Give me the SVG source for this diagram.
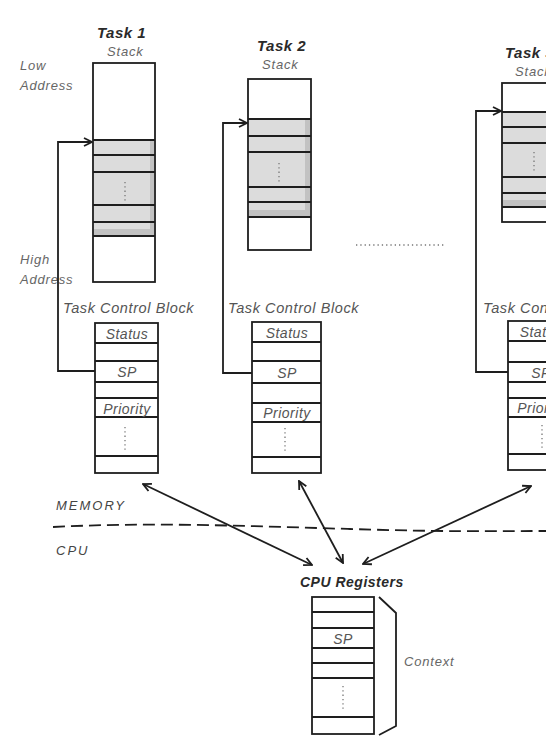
<svg xmlns="http://www.w3.org/2000/svg" width="546" height="745" viewBox="0 0 546 745">
<style>
.box{fill:#fff;stroke:#1e1e1e;stroke-width:1.8}
.ln{stroke:#1e1e1e;stroke-width:1.8;fill:none}
.sh{fill:#dcdcdc}
.sd{fill:#c2c2c2}
.dots{stroke:#777;stroke-width:1.3;stroke-dasharray:1.3,3;fill:none}
.title{font-family:"Liberation Sans",Arial,sans-serif;font-style:italic;font-weight:bold;font-size:15px;fill:#2a2a2a;letter-spacing:0.5px}
.sub{font-family:"Liberation Sans",Arial,sans-serif;font-style:italic;font-size:13px;fill:#666;letter-spacing:0.8px}
.lbl{font-family:"Liberation Sans",Arial,sans-serif;font-style:italic;font-size:14.5px;fill:#555;letter-spacing:0.6px}
.cell{font-family:"Liberation Sans",Arial,sans-serif;font-style:italic;font-size:14px;fill:#555;text-anchor:middle;letter-spacing:0.5px}
.cap{font-family:"Liberation Sans",Arial,sans-serif;font-style:italic;font-size:13px;fill:#444;letter-spacing:2px}
.conn{stroke:#1e1e1e;stroke-width:1.8;fill:none}
</style>
<defs>
<marker id="ah" viewBox="0 0 10 10" refX="9" refY="5" markerWidth="10" markerHeight="10" markerUnits="userSpaceOnUse" orient="auto-start-reverse">
<path d="M1,1 L9,5 L1,9" fill="none" stroke="#1e1e1e" stroke-width="1.8"/>
</marker>
</defs>
<rect width="546" height="745" fill="#fff"/>

<g id="labels">
<text class="sub" x="20" y="70">Low</text>
<text class="sub" x="20" y="90">Address</text>
<text class="sub" x="20" y="264">High</text>
<text class="sub" x="20" y="284">Address</text>
<text class="cap" x="56" y="510">MEMORY</text>
<text class="cap" x="56" y="555">CPU</text>
<path class="dots" d="M356,245 H444"/>
</g>

<g id="task1-stack">
<text class="title" x="97" y="38">Task 1</text>
<text class="sub" x="107" y="56">Stack</text>
<rect class="box" x="93" y="63" width="62" height="219"/>
<rect class="sh" x="94" y="140" width="60" height="96"/>
<rect class="sd" x="150" y="140" width="4" height="96"/>
<rect class="sd" x="94" y="229" width="60" height="7"/>
<path class="ln" d="M93,140 H155 M93,155 H155 M93,172 H155 M93,205 H155 M93,222 H155 M93,236 H155"/>
<path class="dots" d="M125,182 V201"/>
</g>

<g id="task2-stack">
<text class="title" x="257" y="51">Task 2</text>
<text class="sub" x="262" y="69">Stack</text>
<rect class="box" x="248" y="79" width="63" height="171"/>
<rect class="sh" x="249" y="119" width="61" height="98"/>
<rect class="sd" x="305" y="119" width="5" height="98"/>
<rect class="sd" x="249" y="210" width="61" height="7"/>
<path class="ln" d="M248,119 H311 M248,136 H311 M248,152 H311 M248,187 H311 M248,202 H311 M248,217 H311"/>
<path class="dots" d="M279,163 V182"/>
</g>

<g id="task3-stack">
<text class="title" x="505" y="58">Task 3</text>
<text class="sub" x="515" y="76">Stack</text>
<rect class="box" x="502" y="83" width="70" height="139"/>
<rect class="sh" x="503" y="112" width="68" height="95"/>
<rect class="sd" x="503" y="200" width="68" height="7"/>
<path class="ln" d="M502,112 H572 M502,127 H572 M502,143 H572 M502,177 H572 M502,193 H572 M502,207 H572"/>
<path class="dots" d="M534,152 V171"/>
</g>

<g id="task1-tcb">
<text class="lbl" x="63" y="313">Task Control Block</text>
<rect class="box" x="95" y="323" width="63" height="150"/>
<path class="ln" d="M95,343 H158 M95,361 H158 M95,382 H158 M95,398 H158 M95,417 H158 M95,456 H158"/>
<text class="cell" x="127" y="339">Status</text>
<text class="cell" x="127" y="377">SP</text>
<text class="cell" x="127" y="414">Priority</text>
<path class="dots" d="M125,427 V450"/>
</g>

<g id="task2-tcb">
<text class="lbl" x="228" y="313">Task Control Block</text>
<rect class="box" x="252" y="322" width="69" height="151"/>
<path class="ln" d="M252,342 H321 M252,361 H321 M252,383 H321 M252,403 H321 M252,422 H321 M252,457 H321"/>
<text class="cell" x="287" y="338">Status</text>
<text class="cell" x="287" y="378">SP</text>
<text class="cell" x="287" y="418">Priority</text>
<path class="dots" d="M285,428 V451"/>
</g>

<g id="task3-tcb">
<text class="lbl" x="483" y="313">Task Control Block</text>
<rect class="box" x="508" y="321" width="66" height="149"/>
<path class="ln" d="M508,341 H574 M508,362 H574 M508,382 H574 M508,398 H574 M508,417 H574 M508,454 H574"/>
<text class="cell" x="541" y="337">Status</text>
<text class="cell" x="541" y="378">SP</text>
<text class="cell" x="541" y="413">Priority</text>
<path class="dots" d="M542,425 V448"/>
</g>

<g id="cpu-registers">
<text class="title" x="300" y="587" style="font-size:14px">CPU Registers</text>
<rect class="box" x="312" y="597" width="62" height="137"/>
<path class="ln" d="M312,612 H374 M312,628 H374 M312,648 H374 M312,663 H374 M312,678 H374 M312,717 H374"/>
<text class="cell" x="343" y="644">SP</text>
<path class="dots" d="M343,686 V709"/>
<path class="ln" d="M379,597 L396,613 L396,726 L379,735"/>
<text class="sub" x="404" y="666">Context</text>
</g>

<g id="connectors">
<path class="conn" d="M53,527 C150,522 250,526 350,529 S480,531 546,531" stroke-dasharray="12,6"/>
<path class="conn" d="M95,371 H58 V142 H92" marker-end="url(#ah)"/>
<path class="conn" d="M252,373 H223 V123 H247" marker-end="url(#ah)"/>
<path class="conn" d="M508,372 H476 V111 H501" marker-end="url(#ah)"/>
<path class="conn" d="M143,484 L312,565" marker-start="url(#ah)" marker-end="url(#ah)"/>
<path class="conn" d="M299,481 L343,563" marker-start="url(#ah)" marker-end="url(#ah)"/>
<path class="conn" d="M531,486 L363,564" marker-start="url(#ah)" marker-end="url(#ah)"/>
</g>
</svg>
